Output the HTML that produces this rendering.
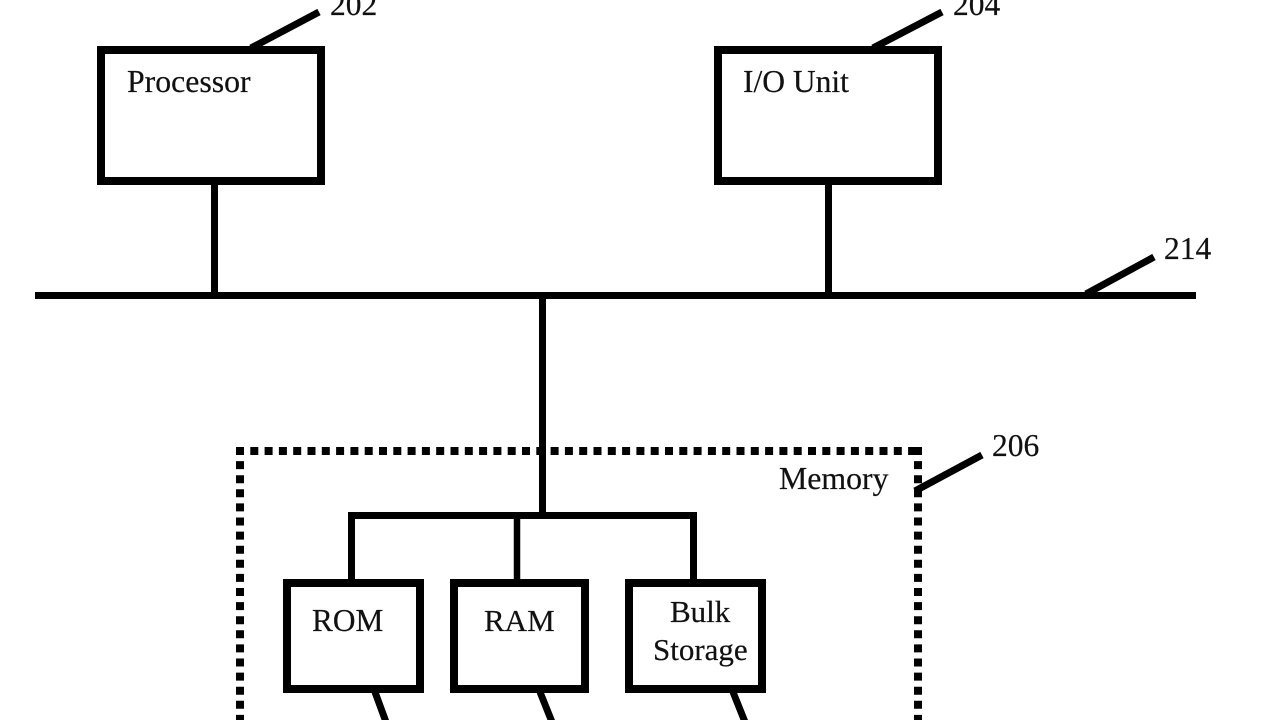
<!DOCTYPE html>
<html>
<head>
<meta charset="utf-8">
<style>
html,body{margin:0;padding:0;background:#fff;width:1280px;height:720px;overflow:hidden}
svg{display:block}
text{font-family:"Liberation Serif",serif;fill:#111;font-size:31.500px;stroke:#111;stroke-width:.2px}
</style>
</head>
<body>
<svg width="1280" height="720" viewBox="0 0 1280 720" xmlns="http://www.w3.org/2000/svg">
<rect width="1280" height="720" fill="#fff"/>
<g fill="none" stroke="#000">
  <!-- main boxes -->
  <rect x="101" y="50" width="220" height="131" stroke-width="8"/>
  <rect x="718" y="50" width="220" height="131" stroke-width="8"/>
  <!-- drops and bus -->
  <path d="M214.500 181V295M828.500 181V295" stroke-width="7"/>
  <path d="M35 295.500H1196" stroke-width="7"/>
  <path d="M542.500 295V516" stroke-width="7"/>
  <!-- memory tree -->
  <path d="M351.500 580V515.500H693.500V580" stroke-width="7"/>
  <path d="M517 516V580" stroke-width="6.500"/>
  <!-- memory boxes -->
  <rect x="287" y="583" width="133" height="106" stroke-width="8"/>
  <rect x="454" y="583" width="131" height="106" stroke-width="8"/>
  <rect x="629" y="583" width="133" height="106" stroke-width="8"/>
  <!-- lower connectors -->
  <path d="M375 692L386 722M540 692L552 722M733 692L745 722" stroke-width="7"/>
  <!-- memory dotted -->
  <path d="M236 451H922" stroke-width="8" stroke-dasharray="8 6.300"/>
  <path d="M240 447V720" stroke-width="8" stroke-dasharray="8 6.100"/>
  <path d="M918 447V720" stroke-width="8" stroke-dasharray="8 6.100"/>
  <!-- leaders -->
  <path d="M251 48L319 12M873 48L942 12M1086 294L1154 257" stroke-width="7"/>
</g>
<path d="M915 491L982 455" stroke="#000" stroke-width="7" fill="none"/>
<text x="127" y="92" font-size="31.500" style="font-size:31.800px">Processor</text>
<text x="743" y="92" style="font-size:31.500px">I/O Unit</text>
<text x="330" y="15">202</text>
<text x="953" y="15">204</text>
<text x="1164" y="259">214</text>
<text x="992" y="456">206</text>
<text x="779" y="489" style="font-size:31.800px">Memory</text>
<text x="312" y="631" style="font-size:31.300px">ROM</text>
<text x="484" y="631" style="font-size:31px">RAM</text>
<text x="670" y="622" style="font-size:31px">Bulk</text>
<text x="653" y="660" style="font-size:31px">Storage</text>
</svg>
</body>
</html>
